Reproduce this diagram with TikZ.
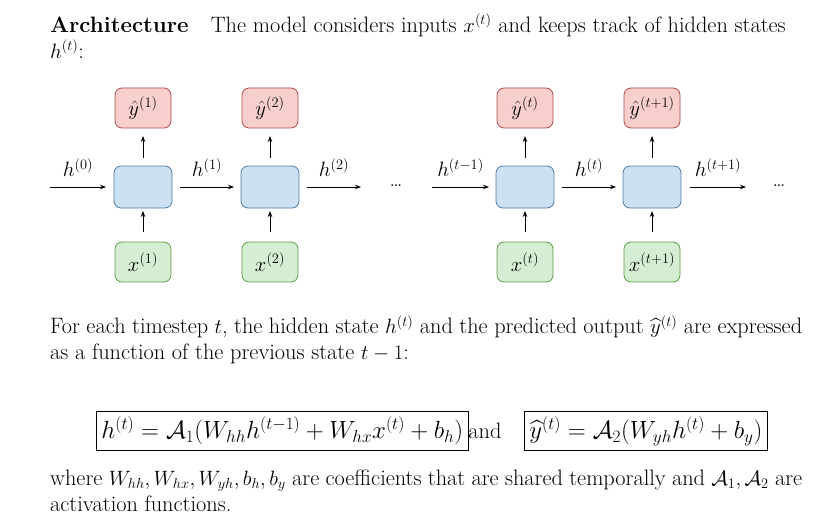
\documentclass[tikz,border=0pt]{standalone}
\usepackage{amsmath}
\usetikzlibrary{arrows.meta}
\definecolor{cb}{HTML}{CCE2F2}\definecolor{cbd}{HTML}{4F7BA6}
\definecolor{cr}{HTML}{F8CFCD}\definecolor{crd}{HTML}{B04A47}
\definecolor{cg}{HTML}{D5EDD2}\definecolor{cgd}{HTML}{5E9E48}
\begin{document}
\begin{tikzpicture}[x=1pt,y=-1pt,
  txt/.style={anchor=north west,inner sep=0,text width=752pt,align=justify,font=\fontsize{22.3}{25.5}\selectfont},
  cell/.style={draw=cbd,fill=cb,rounded corners=7pt,minimum width=58pt,minimum height=42pt,line width=0.8pt},
  ybox/.style={draw=crd,fill=cr,rounded corners=7pt,minimum width=56pt,minimum height=40pt,inner sep=1pt,line width=0.8pt,font=\fontsize{21}{22}\selectfont},
  xbox/.style={draw=cgd,fill=cg,rounded corners=7pt,minimum width=56pt,minimum height=40pt,inner sep=1pt,line width=0.8pt,font=\fontsize{21}{22}\selectfont},
  arr/.style={-{Stealth[length=6pt,width=4.5pt]},line width=0.9pt},
  lab/.style={font=\fontsize{22}{24}\selectfont,inner sep=0},
  eq/.style={draw,line width=0.9pt,inner sep=5pt,font=\fontsize{24}{26}\selectfont}]
\useasboundingbox[fill=white] (0,0) rectangle (832,532);
\node[txt] (t1) at (50,14) {\textbf{Architecture}\quad The model considers inputs $x^{(t)}$ and keeps track of hidden states\\ $h^{(t)}$:};
\foreach \n/\x/\yl/\xl in {a/143/{\hat{y}^{(1)}}/{x^{(1)}}, b/270/{\hat{y}^{(2)}}/{x^{(2)}}, c/525/{\hat{y}^{(t)}}/{x^{(t)}}, d/652/{\hat{y}^{(t+1)}}/{x^{(t+1)}}}{
  \node[cell] (c\n) at (\x,187) {};
  \node[ybox] (y\n) at (\x,108) {$\yl$};
  \node[xbox] (x\n) at (\x,262) {$\xl$};
  \coordinate (xs\n) at (\x,232);
  \coordinate (xe\n) at (\x,211);
  \coordinate (ys\n) at (\x,158);
  \coordinate (ye\n) at (\x,136);
  \draw[arr] (xs\n) -- (xe\n);
  \draw[arr] (ys\n) -- (ye\n);
}
\foreach \s/\e/\l [count=\i] in {50/106/{h^{(0)}},180/234/{h^{(1)}},307/361/{h^{(2)}},432/489/{h^{(t-1)}},562/616/{h^{(t)}},690/746/{h^{(t+1)}}}{
  \coordinate (hs\i) at (\s,187);
  \coordinate (he\i) at (\e,187);
  \draw[arr] (hs\i) -- (he\i) node[lab,midway,above=10pt] {$\l$};
}
\node[font=\fontsize{22}{24}\selectfont] (d1) at (396,186) {\ldots};
\node[font=\fontsize{22}{24}\selectfont] (d2) at (779,186) {\ldots};
\node[txt] (t2) at (50,315) {For each timestep $t$, the hidden state $h^{(t)}$ and the predicted output $\widehat{y}^{(t)}$ are expressed as a function of the previous state $t-1$:};
\node[eq,anchor=west] (e1) at (96,431) {$h^{(t)}=\mathcal{A}_1(W_{hh}h^{(t-1)}+W_{hx}x^{(t)}+b_h)$};
\node[font=\fontsize{22.3}{24}\selectfont] (and) at (485,431) {and};
\node[eq,anchor=west] (e2) at (524,431) {$\widehat{y}^{(t)}=\mathcal{A}_2(W_{yh}h^{(t)}+b_y)$};
\node[txt] (t3) at (50,470) {where $W_{hh},W_{hx},W_{yh},b_h,b_y$ are coefficients that are shared temporally and $\mathcal{A}_1,\mathcal{A}_2$ are activation functions.};
\end{tikzpicture}
\end{document}
